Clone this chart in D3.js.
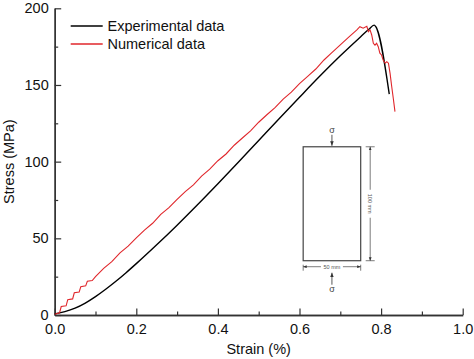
<!DOCTYPE html>
<html><head><meta charset="utf-8">
<script src="https://cdn.jsdelivr.net/npm/d3@7/dist/d3.min.js"></script>
<style>body{margin:0;background:#fff}svg{display:block}svg text{font-family:"Liberation Sans",Arial,sans-serif}</style>
</head><body><svg id="c" width="474" height="359" font-family="Liberation Sans, Arial, sans-serif"></svg>
<script>
const seriesNames = ["Experimental data", "Numerical data"];
const seriesColors = ["#000000", "#e0262b"];
const xTicks = [0, 0.2, 0.4, 0.6, 0.8, 1.0];
const yTicks = [0, 50, 100, 150, 200];
const expStrain = [0, 0.025, 0.05, 0.075, 0.1, 0.125, 0.15, 0.175, 0.2, 0.25, 0.3, 0.35, 0.4, 0.45, 0.5, 0.55, 0.6, 0.65, 0.7, 0.75, 0.77, 0.783, 0.787, 0.82];
const expStress = [0.7, 2.2, 4.5, 7.8, 12, 16.8, 22, 27.6, 33.5, 45.8, 58.6, 71.9, 85.6, 99.6, 113.8, 128, 142, 155.8, 169, 181.5, 186.3, 189, 188, 144];
const numStrain = [0, 0.012, 0.016, 0.028, 0.032, 0.044, 0.048, 0.06, 0.064, 0.076, 0.08, 0.092, 0.1, 0.12, 0.14, 0.16, 0.18, 0.2, 0.22, 0.24, 0.26, 0.28, 0.3, 0.32, 0.34, 0.36, 0.38, 0.4, 0.42, 0.44, 0.46, 0.48, 0.5, 0.52, 0.54, 0.56, 0.58, 0.6, 0.62, 0.64, 0.66, 0.68, 0.7, 0.72, 0.74, 0.748, 0.756, 0.765, 0.769, 0.773, 0.777, 0.781, 0.785, 0.789, 0.793, 0.797, 0.801, 0.805, 0.81, 0.814, 0.818, 0.822, 0.826, 0.83, 0.834];
const numStress = [0.5, 1.5, 5.5, 6, 10, 10.5, 14.5, 15, 18.5, 19, 22, 22.5, 25, 30.4, 34.8, 40.5, 44.9, 50.3, 55.4, 59.8, 65.6, 70, 75.4, 80.5, 84.9, 90.6, 95.1, 100.6, 105, 110.7, 115.4, 120.1, 125.7, 130.6, 135.2, 140.8, 145.3, 150.9, 155.6, 160.4, 166.3, 171.2, 176.2, 181, 185.8, 188, 187, 188.3, 184.8, 185.9, 182.6, 177.2, 176, 177.2, 175, 170.7, 169.6, 166.3, 164.2, 165.2, 164.2, 157.6, 149, 141, 132.6];

const svg = d3.select("#c");
const m = {l: 54.7, r: 462.7, t: 8.3, b: 315};
const x = d3.scaleLinear().domain([0, 1]).range([m.l, m.r]);
const y = d3.scaleLinear().domain([0, 200]).range([m.b, m.t]);
const axisColor = "#333";
const FF = "Liberation Sans, Arial, sans-serif";

const xMinor = svg.append("g").attr("transform", `translate(0,${m.b})`)
  .call(d3.axisBottom(x).tickValues([0.1, 0.3, 0.5, 0.7, 0.9]).tickSizeInner(-3.5).tickSizeOuter(0).tickFormat(""));
const yMinor = svg.append("g").attr("transform", `translate(${m.l},0)`)
  .call(d3.axisLeft(y).tickValues([25, 75, 125, 175]).tickSizeInner(-3.5).tickSizeOuter(0).tickFormat(""));
const xAxis = svg.append("g").attr("transform", `translate(0,${m.b})`)
  .call(d3.axisBottom(x).tickValues(xTicks).tickSizeInner(-6.5).tickSizeOuter(0).tickPadding(9).tickFormat(d3.format(".1f")));
const yAxis = svg.append("g").attr("transform", `translate(${m.l},0)`)
  .call(d3.axisLeft(y).tickValues(yTicks).tickSizeInner(-6.5).tickSizeOuter(0).tickPadding(6).tickFormat(d3.format("d")));
[xMinor, yMinor, xAxis, yAxis].forEach(g => {
  g.attr("font-family", FF);
  g.selectAll(".domain").attr("stroke", axisColor).attr("stroke-width", 1.4);
  g.selectAll(".tick line").attr("stroke", axisColor).attr("stroke-width", 1.2);
  g.selectAll("text").attr("font-size", 14.5).attr("fill", "#111");
});

const expData = expStrain.map((s, i) => [s, expStress[i]]);
const numData = numStrain.map((s, i) => [s, numStress[i]]);
svg.append("path").datum(expData)
  .attr("d", d3.line().x(d => x(d[0])).y(d => y(d[1])).curve(d3.curveMonotoneX))
  .attr("fill", "none").attr("stroke", seriesColors[0]).attr("stroke-width", 1.4);
svg.append("path").datum(numData)
  .attr("d", d3.line().x(d => x(d[0])).y(d => y(d[1])))
  .attr("fill", "none").attr("stroke", seriesColors[1]).attr("stroke-width", 1.1);

svg.append("text").attr("x", (m.l + m.r) / 2).attr("y", 354).attr("text-anchor", "middle")
  .attr("font-size", 14.5).attr("fill", "#111").text("Strain (%)");
svg.append("text").attr("transform", `translate(14,${y(100)}) rotate(-90)`).attr("text-anchor", "middle")
  .attr("font-size", 14.5).attr("fill", "#111").text("Stress (MPa)");

seriesNames.forEach((n, i) => {
  const ly = 26 + i * 18;
  svg.append("line").attr("x1", 70.7).attr("x2", 102.7).attr("y1", ly).attr("y2", ly)
    .attr("stroke", seriesColors[i]).attr("stroke-width", 1.4);
  svg.append("text").attr("x", 107.5).attr("y", ly + 5).attr("font-size", 14.5).attr("fill", "#111").text(n);
});

// inset specimen sketch
const ins = svg.append("g").attr("stroke", "#444").attr("fill", "none");
const rx0 = x(0.609), rx1 = x(0.750), ry0 = y(109.7), ry1 = y(35.4);
const cx = (rx0 + rx1) / 2;
ins.append("rect").attr("x", rx0).attr("y", ry0).attr("width", rx1 - rx0).attr("height", ry1 - ry0).attr("stroke-width", 1.2);
const defs = svg.append("defs");
defs.append("marker").attr("id", "ah").attr("viewBox", "0 0 10 10").attr("refX", 10).attr("refY", 5)
  .attr("markerWidth", 5).attr("markerHeight", 5).attr("orient", "auto-start-reverse")
  .append("path").attr("d", "M0,1 L10,5 L0,9 Z").attr("fill", "#333").attr("stroke", "none");
ins.append("line").attr("x1", cx).attr("x2", cx).attr("y1", ry0 - 12).attr("y2", ry0 - 1).attr("stroke-width", 0.9).attr("marker-end", "url(#ah)");
ins.append("line").attr("x1", cx).attr("x2", cx).attr("y1", ry1 + 24).attr("y2", ry1 + 12).attr("stroke-width", 0.9).attr("marker-end", "url(#ah)");
svg.append("text").attr("x", cx).attr("y", ry0 - 13.5).attr("text-anchor", "middle").attr("font-size", 9).attr("fill", "#444").text("σ");
svg.append("text").attr("x", cx).attr("y", ry1 + 31).attr("text-anchor", "middle").attr("font-size", 9).attr("fill", "#444").text("σ");
const dx = rx1 + 9.5;
ins.append("line").attr("x1", rx1 + 5).attr("x2", rx1 + 14).attr("y1", ry0).attr("y2", ry0).attr("stroke-width", 0.7);
ins.append("line").attr("x1", rx1 + 5).attr("x2", rx1 + 14).attr("y1", ry1).attr("y2", ry1).attr("stroke-width", 0.7);
ins.append("line").attr("x1", dx).attr("x2", dx).attr("y1", (ry0 + ry1) / 2 - 14).attr("y2", ry0).attr("stroke-width", 0.7).attr("marker-end", "url(#ah)");
ins.append("line").attr("x1", dx).attr("x2", dx).attr("y1", (ry0 + ry1) / 2 + 14).attr("y2", ry1).attr("stroke-width", 0.7).attr("marker-end", "url(#ah)");
svg.append("text").attr("transform", `translate(${dx - 2},${(ry0 + ry1) / 2}) rotate(90)`).attr("text-anchor", "middle")
  .attr("font-size", 5.5).attr("fill", "#555").text("100 mm");
const hy = ry1 + 6;
ins.append("line").attr("x1", rx0).attr("x2", rx0).attr("y1", hy - 2).attr("y2", hy + 4).attr("stroke-width", 0.7);
ins.append("line").attr("x1", rx1).attr("x2", rx1).attr("y1", hy - 2).attr("y2", hy + 4).attr("stroke-width", 0.7);
ins.append("line").attr("x1", cx - 11).attr("x2", rx0).attr("y1", hy).attr("y2", hy).attr("stroke-width", 0.7).attr("marker-end", "url(#ah)");
ins.append("line").attr("x1", cx + 11).attr("x2", rx1).attr("y1", hy).attr("y2", hy).attr("stroke-width", 0.7).attr("marker-end", "url(#ah)");
svg.append("text").attr("x", cx).attr("y", hy + 2).attr("text-anchor", "middle").attr("font-size", 5.5).attr("fill", "#555").text("50 mm");
</script></body></html>
